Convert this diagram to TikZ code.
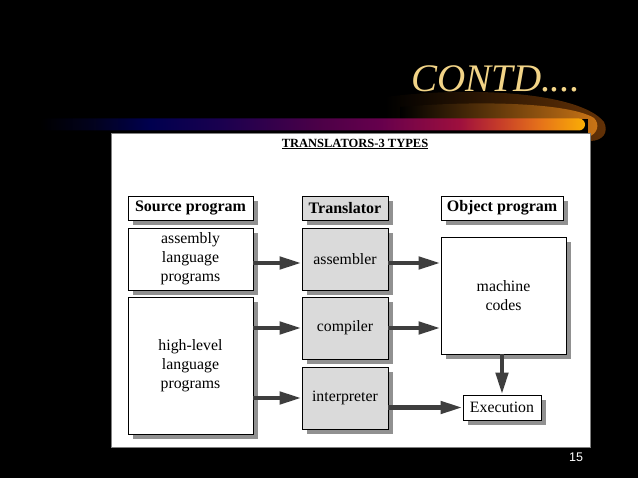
\documentclass[tikz,border=0pt]{standalone}
\usepackage{fontspec}
\setmainfont{Liberation Serif}
\newfontfamily\sansf{Liberation Sans}
\usetikzlibrary{shadows,arrows.meta}
\definecolor{shaftc}{RGB}{62,62,62}
\definecolor{boxgray}{RGB}{218,218,218}
\definecolor{shadowc}{RGB}{145,145,145}
\definecolor{titlec}{RGB}{242,212,135}
\definecolor{glowa}{RGB}{100,50,6}
\definecolor{glowb}{RGB}{205,118,22}
\pgfdeclarehorizontalshading{barshade}{100bp}{rgb(0bp)=(0,0,0); rgb(25bp)=(0,0,0); rgb(30bp)=(0.01,0.01,0.12); rgb(35.1bp)=(0,0,0.31); rgb(41.5bp)=(0.1,0,0.31); rgb(50.7bp)=(0.3,0,0.28); rgb(56.2bp)=(0.4,0,0.3); rgb(63.5bp)=(0.62,0.06,0.24); rgb(67.2bp)=(0.78,0.24,0.16); rgb(70.9bp)=(0.9,0.45,0.1); rgb(75bp)=(0.98,0.68,0.02); rgb(100bp)=(0.98,0.68,0.02)}
\begin{document}
\begin{tikzpicture}[x=1pt,y=-1pt,
  box/.style={draw=black, line width=0.9pt, fill=white, inner sep=0pt, align=center,
    font=\fontsize{15.8}{19}\selectfont,
    drop shadow={shadow xshift=5pt,shadow yshift=-5pt,fill=shadowc,opacity=1}},
  gbox/.style={box, fill=boxgray},
  hdr/.style={font=\fontsize{16}{19}\bfseries\selectfont, minimum height=24pt},
  arr/.style={draw=shaftc, line width=4.5pt, -{Triangle[length=22pt,width=12pt]}}]
\useasboundingbox (0,0) rectangle (638,478);
\fill[black] (0,0) rectangle (638,478);
% glow behind the title
\path[left color=black, right color=glowa] (385,119) -- (385,97) .. controls (470,86) and (580,92) .. (604,122) .. controls (609,132) and (603,141) .. (590,141) -- (590,119) -- cycle;
\path[left color=black, right color=glowb] (400,119) -- (400,107) .. controls (480,100) and (570,103) .. (594,118) .. controls (600,124) and (598,134) .. (588,137) -- (588,119) -- cycle;
% gradient bar
\path[shading=barshade, rounded corners=6pt] (40,118.5) rectangle (585,130.5);
% title
\node[anchor=base west, text=titlec, font=\itshape\fontsize{39}{41}\selectfont, inner sep=0pt] (title) at (411,92) {CONTD....};
% white panel
\filldraw[fill=white, draw=gray, line width=0.6pt] (111,133) rectangle (590,447);
\node[font=\fontsize{12.5}{14}\bfseries\selectfont] (sub) at (355,144) {\underline{TRANSLATORS-3 TYPES}};
% headers
\node[box, hdr, minimum width=125pt] (src) at (190.5,208) {Source program};
\node[gbox, hdr, minimum width=86pt] (trn) at (345,208) {Translator};
\node[box, hdr, minimum width=122pt] (obj) at (502,208) {Object program};
% source boxes
\node[box, minimum width=125pt, minimum height=62pt] (asm) at (190.5,259) {assembly\\language\\programs};
\node[box, minimum width=125pt, minimum height=137pt] (hl) at (190.5,365.5) {high-level\\language\\programs};
% translators
\node[gbox, minimum width=86pt, minimum height=62pt] (asmb) at (345,259) {assembler};
\node[gbox, minimum width=86pt, minimum height=62pt] (comp) at (345,328) {compiler};
\node[gbox, minimum width=86pt, minimum height=62pt] (intp) at (345,398) {interpreter};
% object
\node[box, minimum width=125pt, minimum height=117pt] (mc) at (503.5,295.5) {machine\\codes};
\node[box, minimum width=78pt, minimum height=25pt] (exe) at (502,407.5) {Execution};
% arrows
\draw[arr] ([yshift=-4pt]asm.east) -- ([yshift=-4pt]asmb.west);
\draw[arr] (hl.east |- comp.west) -- (comp.west);
\draw[arr] (hl.east |- intp.west) -- (intp.west);
\draw[arr] ([yshift=-4pt]asmb.east) -- ([yshift=-4pt]asmb.east -| mc.west);
\draw[arr] (comp.east) -- (comp.east -| mc.west);
\draw[arr] (intp.east |- exe.west) -- (exe.west);
\draw[arr] (mc.south -| exe.north) -- (exe.north);
% page number
\node[text=white, font=\sansf\fontsize{12.5}{14}\selectfont] (pg) at (576,457) {15};
\end{tikzpicture}
\end{document}
